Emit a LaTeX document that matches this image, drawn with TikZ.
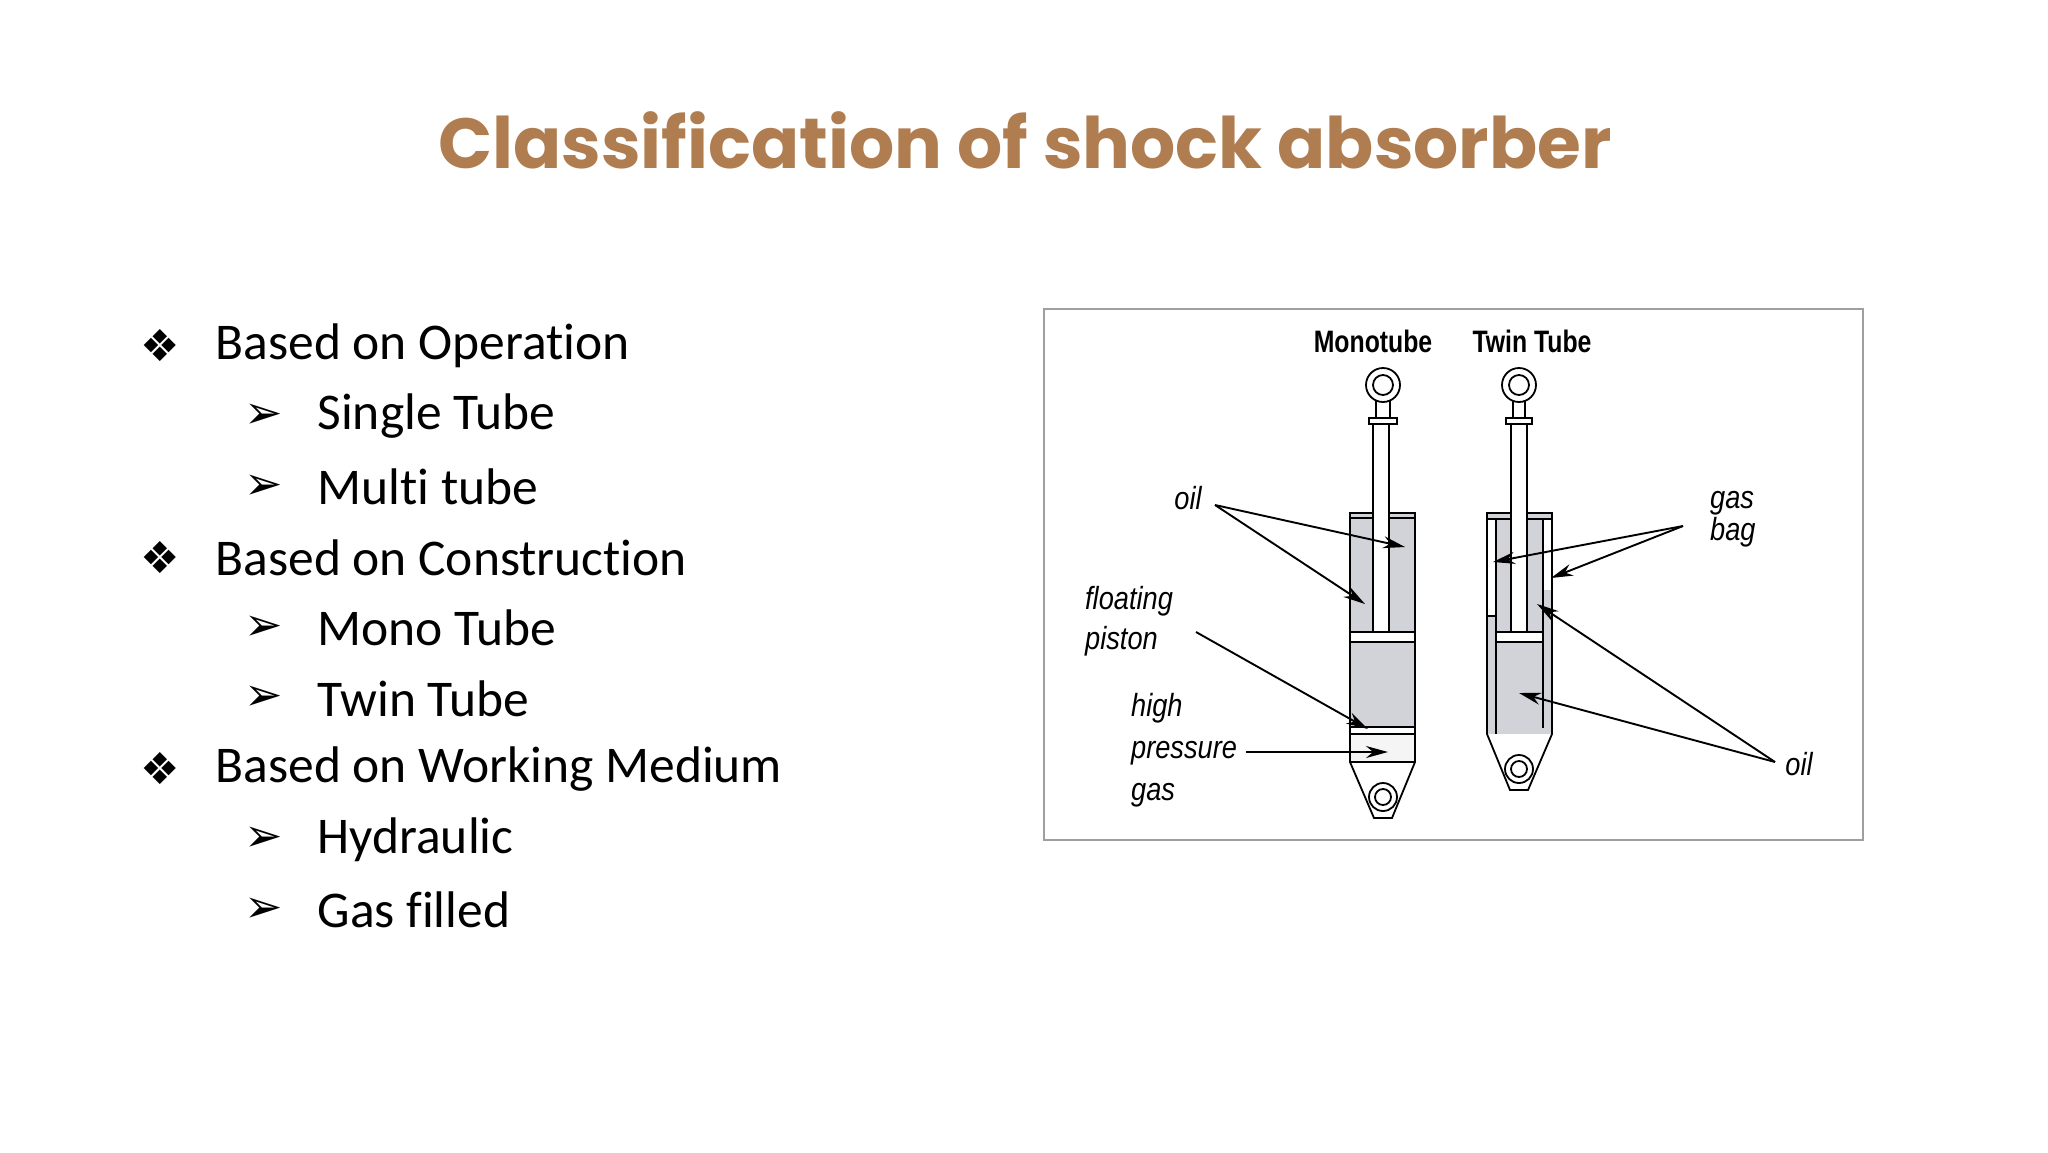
\documentclass[tikz,border=0pt]{standalone}
\usepackage{fontspec}
\setmainfont{Carlito}[Ligatures={NoCommon}]
\newfontfamily\symf{DejaVu Sans}
\newfontfamily\titlef{Poppins}
\newfontfamily\diaf{Liberation Sans}
\usetikzlibrary{arrows.meta}
\definecolor{titlebrown}{HTML}{B07D50}
\definecolor{oilgray}{HTML}{D2D3D8}
\begin{document}
\begin{tikzpicture}[x=1pt,y=-1pt,
  lvlone/.style={anchor=west,font=\fontsize{51.5}{56}\selectfont},
  lvltwo/.style={anchor=west,font=\fontsize{51.5}{56}\selectfont},
  bulA/.style={anchor=center,font=\symf\fontsize{44}{48}\selectfont},
  bulB/.style={anchor=center,font=\symf\fontsize{46}{48}\selectfont},
  lab/.style={font=\diaf\itshape\fontsize{32}{34}\selectfont,xscale=0.85,inner sep=0pt},
  hdr/.style={font=\diaf\bfseries\fontsize{31}{32}\selectfont,xscale=0.8,inner sep=0pt},
  arr/.style={-{Stealth[length=22pt,width=12pt]},line width=1.9pt},
  part/.style={draw=black,line width=1.8pt}]
\useasboundingbox (0,0) rectangle (2048,1152);
\fill[white] (0,0) rectangle (2048,1152);
\node[font=\titlef\bfseries\fontsize{71}{80}\selectfont,text=titlebrown] (title) at (1025,140) {Classification of shock absorber};
% bullets
\foreach \y/\kind/\t [count=\i] in {346/1/Based on Operation,416.5/2/Single Tube,487/2/Multi tube,557.5/1/Based on Construction,628/2/Mono Tube,698.5/2/Twin Tube,769/1/Based on Working Medium,839.5/2/Hydraulic,910/2/Gas filled}{
  \ifnum\kind=1
    \node[bulA] (b\i) at (160,\y) {❖};
    \node[lvlone] (t\i) at (212,\y) {\t};
  \else
    \node[bulB] (b\i) at (264,\y) {➢};
    \node[lvltwo] (t\i) at (314,\y) {\t};
  \fi}
% figure frame
\draw[gray!75,line width=2.5pt] (1044,309) rectangle (1863,840);
\node[hdr] (hmono) at (1373,341) {Monotube};
\node[hdr] (htwin) at (1532,341) {Twin Tube};
% ===== Monotube =====
\fill[oilgray] (1350,513) rectangle (1415,762);
\fill[white] (1350,727) rectangle (1415,734);
\fill[gray!8] (1350,734) rectangle (1415,762);
\draw[part] (1350,513) -- (1350,762) -- (1374,818) -- (1392,818) -- (1415,762) -- (1415,513) -- cycle;
\draw[part] (1350,518) -- (1415,518);
\draw[part,fill=white] (1350,632) rectangle (1415,642);
\draw[part] (1350,727) -- (1415,727) (1350,734) -- (1415,734) (1350,762) -- (1415,762);
\draw[part,fill=white] (1373,424) rectangle (1389,632);
\draw[part,fill=white] (1369,418) rectangle (1397,424);
\draw[part,fill=white] (1376,401) rectangle (1390,418);
\draw[part,fill=white] (1383,385) circle (17);
\draw[part] (1383,385) circle (10);
\draw[part,fill=white] (1383,797) circle (14);
\draw[part] (1383,797) circle (8);
% ===== Twin tube =====
\fill[oilgray] (1487,513) rectangle (1552,734);
\fill[white] (1488,519) rectangle (1496,616);
\fill[white] (1543,519) rectangle (1551,590);
\draw[part] (1487,513) -- (1487,734) -- (1510,790) -- (1528,790) -- (1552,734) -- (1552,513) -- cycle;
\draw[part] (1487,519) -- (1552,519);
\draw[part] (1496,519) -- (1496,734) (1543,519) -- (1543,728);
\draw[part] (1487,616) -- (1496,616);
\draw[part,fill=white] (1496,632) rectangle (1543,642);
\draw[part,fill=white] (1511,424) rectangle (1527,632);
\draw[part,fill=white] (1506,418) rectangle (1532,424);
\draw[part,fill=white] (1513,401) rectangle (1525,418);
\draw[part,fill=white] (1519,385) circle (17);
\draw[part] (1519,385) circle (10);
\draw[part,fill=white] (1519,769) circle (14);
\draw[part] (1519,769) circle (8);
% labels
\node[lab] (oilL) at (1188,498) {oil};
\node[lab,align=left,anchor=west] (fp) at (1085,621) {floating\\[6pt]piston};
\node[lab,align=left,anchor=west] (hpg) at (1131,750) {high\\[8pt]pressure\\[8pt]gas};
\node[lab,align=left,anchor=west] (gb) at (1710,519) {gas\\[-2pt]bag};
\node[lab] (oilR) at (1799,764) {oil};
% arrow anchors
\coordinate (oilLs) at (1215,505);
\coordinate (oilA1) at (1405,547);
\coordinate (oilA2) at (1365,604);
\coordinate (fps) at (1196,632);
\coordinate (fpe) at (1368,729);
\coordinate (hps) at (1246,752);
\coordinate (hpe) at (1388,752);
\coordinate (gbs) at (1683,526);
\coordinate (gbe1) at (1493,562);
\coordinate (gbe2) at (1551,578);
\coordinate (oilRs) at (1775,762);
\coordinate (oilR1) at (1537,604);
\coordinate (oilR2) at (1519,693);
\draw[arr] (oilLs) -- (oilA1);
\draw[arr] (oilLs) -- (oilA2);
\draw[arr] (fps) -- (fpe);
\draw[arr] (hps) -- (hpe);
\draw[arr] (gbs) -- (gbe1);
\draw[arr] (gbs) -- (gbe2);
\draw[arr] (oilRs) -- (oilR1);
\draw[arr] (oilRs) -- (oilR2);
\end{tikzpicture}
\end{document}
